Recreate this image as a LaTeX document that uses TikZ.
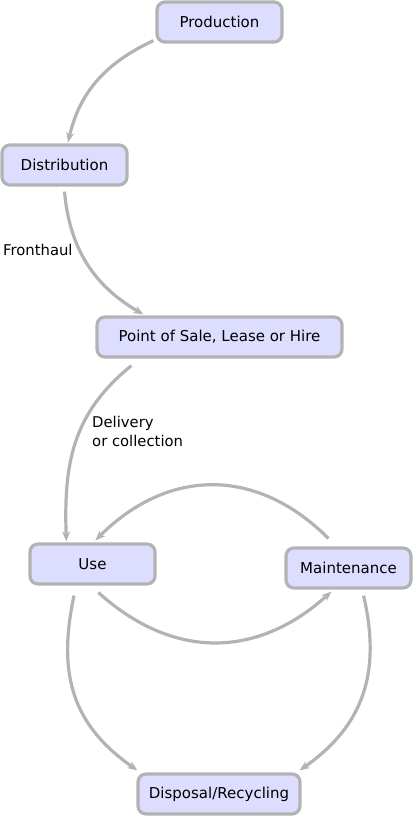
\documentclass[tikz,border=0pt]{standalone}
\usepackage{fontspec}
\setmainfont{DejaVu Sans}
\usetikzlibrary{arrows.meta}
\definecolor{boxfill}{HTML}{DDDDFF}
\definecolor{edgegray}{HTML}{B3B3B3}
\begin{document}
\begin{tikzpicture}[x=1pt,y=1pt,
  box/.style={draw=edgegray, fill=boxfill, line width=3.2pt, rounded corners=8pt,
    minimum height=40pt, inner sep=0pt, font=\fontsize{15}{17}\selectfont},
  flow/.style={draw=edgegray, line width=3.2pt, -{Stealth[length=10pt,width=8pt]}},
  lbl/.style={font=\fontsize{14.8}{19}\selectfont, inner sep=0pt, align=left}]
\useasboundingbox (0,0) rectangle (414,-817);
\node[box, minimum width=125pt] (P) at (219.5,-22) {Production};
\node[box, minimum width=125pt] (D) at (64.5,-165) {Distribution};
\node[box, minimum width=245pt] (S) at (219.5,-337) {Point of Sale, Lease or Hire};
\node[box, minimum width=125pt] (U) at (92.5,-564) {Use};
\node[box, minimum width=125pt] (M) at (348.5,-568) {Maintenance};
\node[box, minimum width=162pt] (R) at (219,-794) {Disposal/Recycling};
\node[lbl, anchor=west] (fh) at (3,-250) {Fronthaul};
\node[lbl, anchor=west] (dc) at (92,-431.5) {Delivery\\or collection};
\draw[flow] ([xshift=-2pt,yshift=3pt]P.south west) to[out=205,in=77] ([xshift=3.5pt,yshift=1pt]D.north);
\draw[flow] ([yshift=-5pt]D.south) to[out=-85,in=150] ([xshift=48pt,yshift=1pt]S.north west);
\draw[flow] ([xshift=36pt,yshift=-7pt]S.south west) to[out=219,in=92,looseness=1.05] ([xshift=38pt,yshift=1pt]U.north west);
\draw[flow] ([xshift=44pt,yshift=8pt]M.north west) to[out=135,in=45,looseness=1.12] ([xshift=67pt,yshift=2pt]U.north west);
\draw[flow] ([xshift=70pt,yshift=-7pt]U.south west) to[out=-42,in=-138,looseness=1.1] ([xshift=47pt,yshift=-2pt]M.south west);
\draw[flow] ([xshift=-18.5pt,yshift=-10pt]U.south) to[out=-102,in=145,looseness=1.1] ([xshift=1pt,yshift=2pt]R.north west);
\draw[flow] ([xshift=-49pt,yshift=-6pt]M.south east) to[out=-77,in=35,looseness=1.08] ([xshift=-2pt,yshift=2pt]R.north east);
\end{tikzpicture}
\end{document}
